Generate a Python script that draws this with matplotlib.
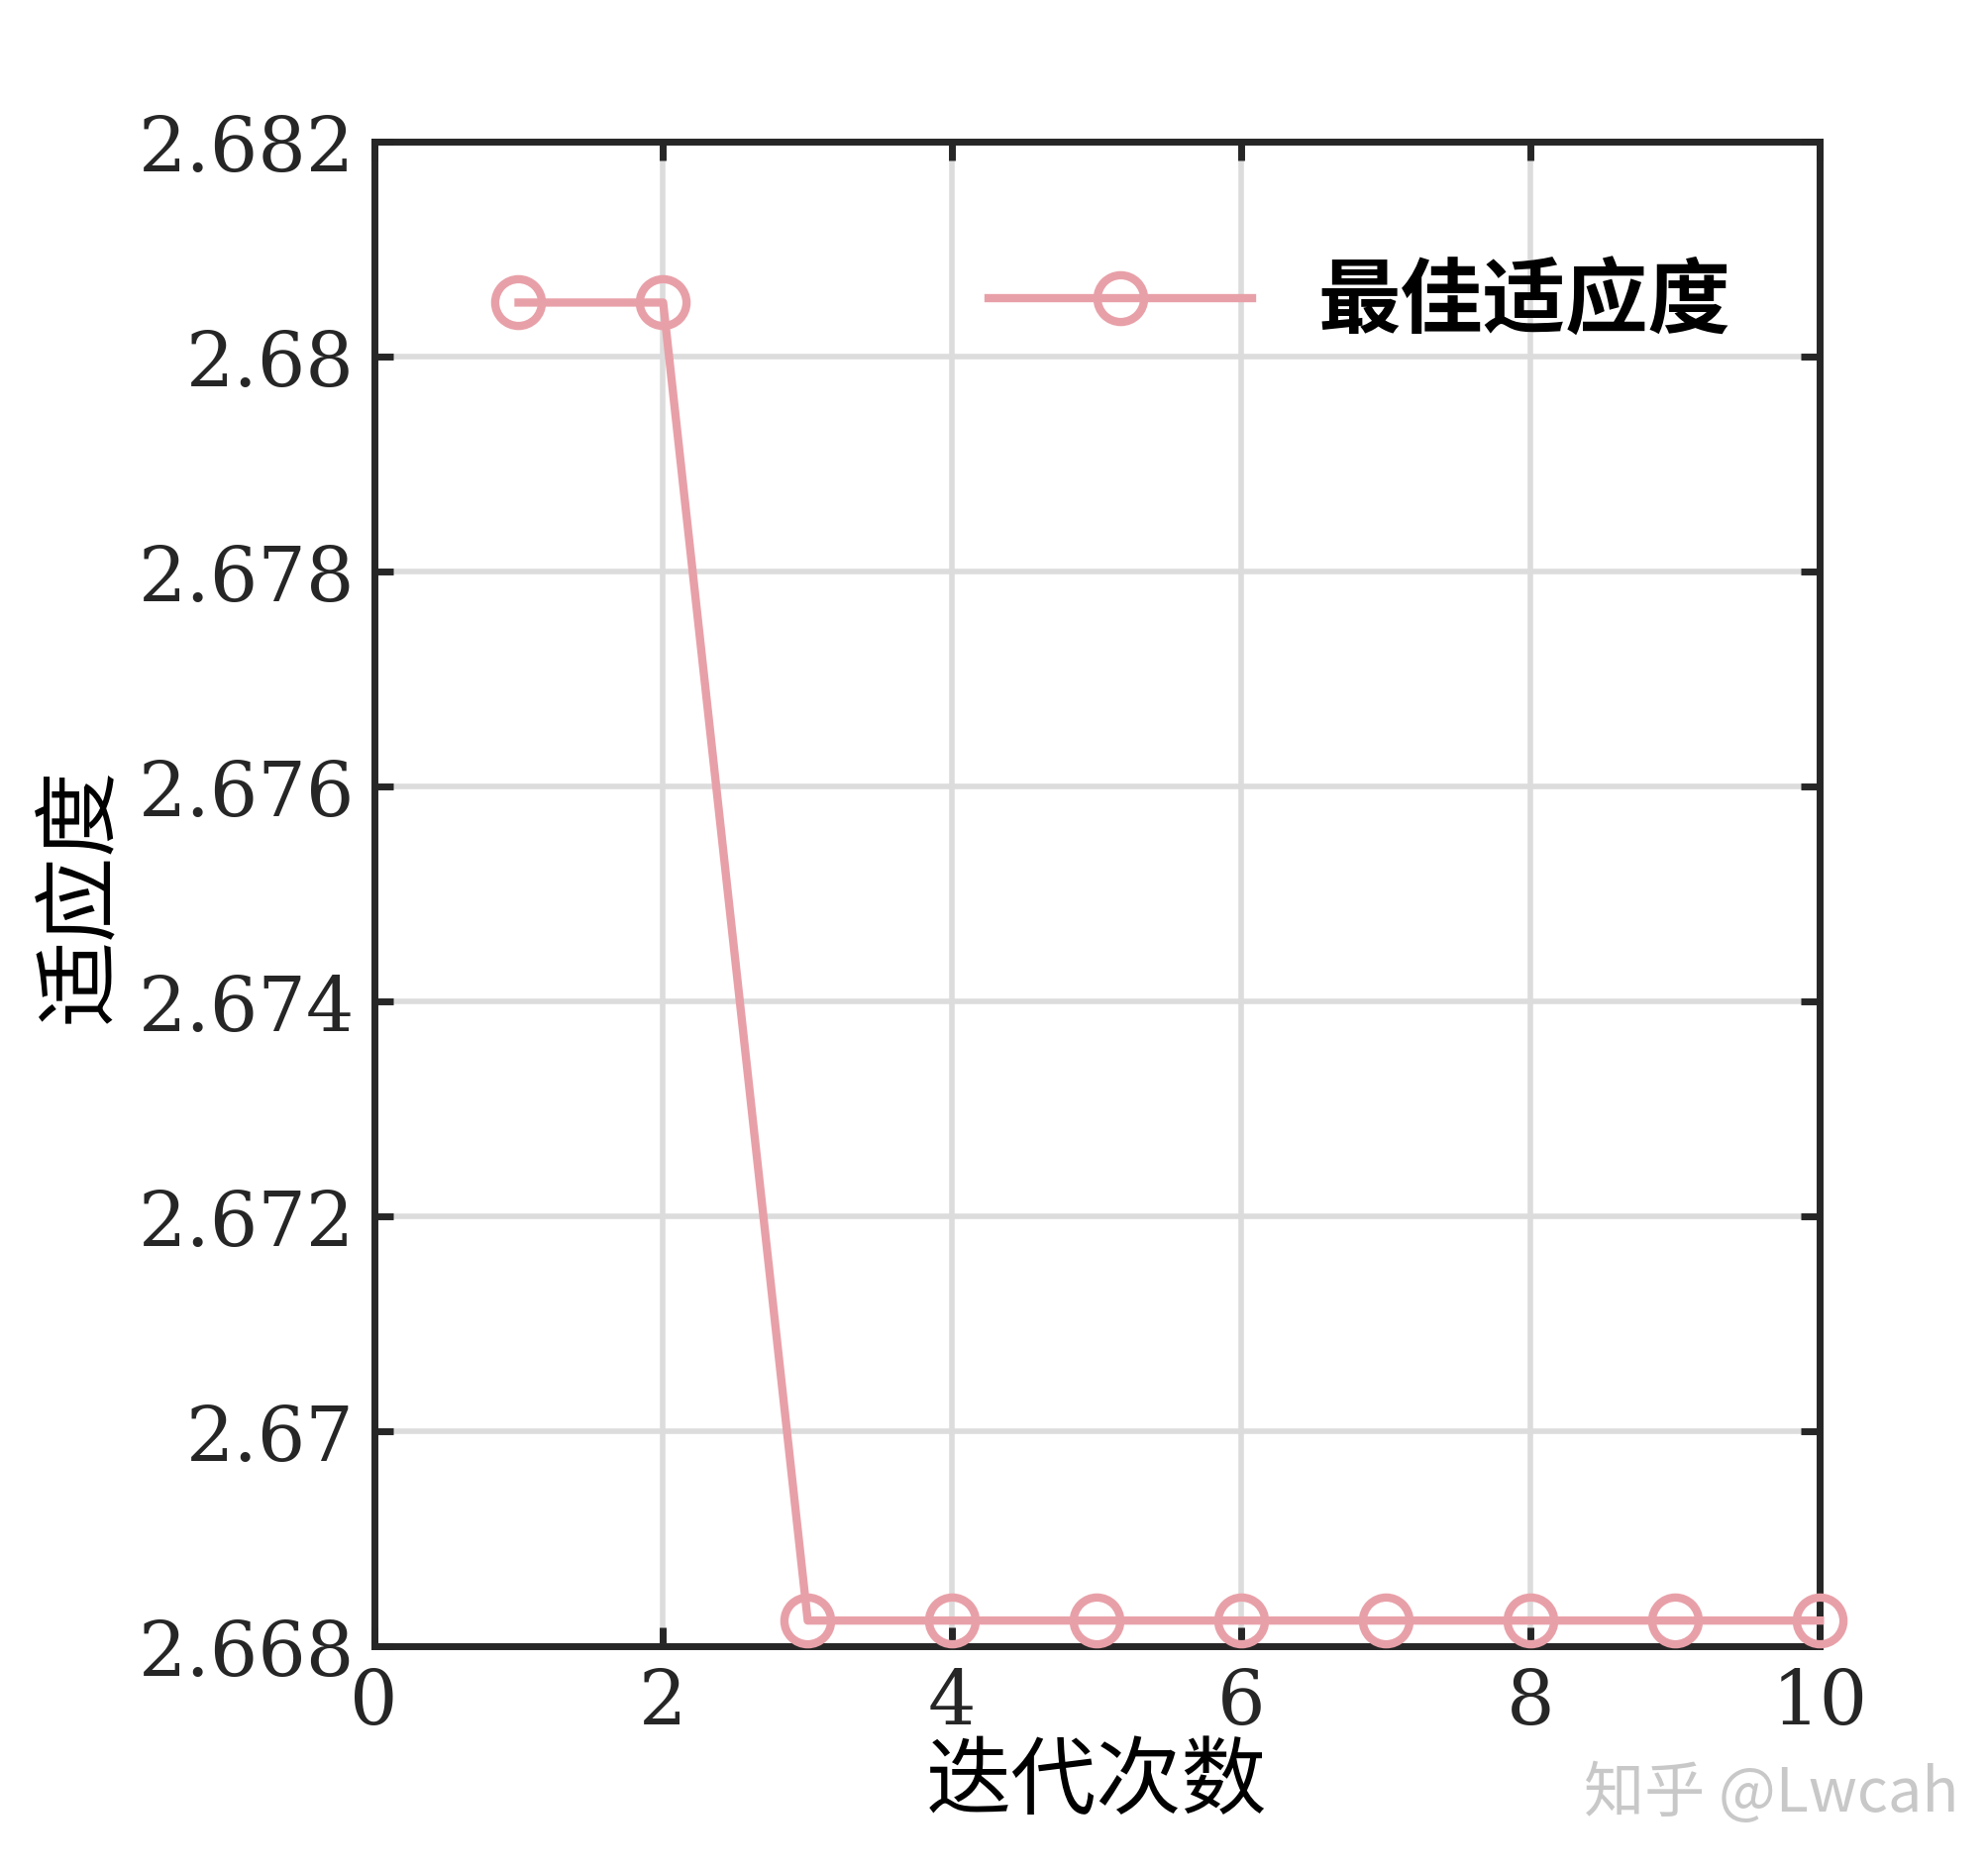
import matplotlib
matplotlib.use("Agg")
import matplotlib.pyplot as plt

plt.rcParams['font.family'] = ['Noto Sans CJK SC', 'DejaVu Sans']

iterations = [1, 2, 3, 4, 5, 6, 7, 8, 9, 10]
best_fitness = [2.6805, 2.6805, 2.66824, 2.66824, 2.66824, 2.66824,
                2.66824, 2.66824, 2.66824, 2.66824]
yticks = [2.668, 2.670, 2.672, 2.674, 2.676, 2.678, 2.680, 2.682]
ytick_labels = ['2.668', '2.67', '2.672', '2.674', '2.676', '2.678', '2.68', '2.682']
xticks = [0, 2, 4, 6, 8, 10]

fig = plt.figure(figsize=(20.08, 18.9), dpi=100)
ax = fig.add_axes([0.188, 0.12, 0.727, 0.804])

color = '#e8a0a8'
ax.plot(iterations, best_fitness, color=color, lw=6, marker='o', ms=34,
        markerfacecolor='none', markeredgewidth=6, label='最佳适应度',
        clip_on=False, zorder=3)

ax.set_xlim(0, 10)
ax.set_ylim(2.668, 2.682)
ax.set_xticks(xticks)
ax.set_yticks(yticks)
ax.set_yticklabels(ytick_labels)
ax.grid(True, color='#dcdcdc', lw=4)
ax.set_axisbelow(True)
for s in ax.spines.values():
    s.set_linewidth(5)
    s.set_color('#262626')
ax.tick_params(direction='in', length=14, width=5, labelsize=55,
               top=True, right=True, colors='#262626', pad=14)
for lbl in ax.get_xticklabels() + ax.get_yticklabels():
    lbl.set_family(['DejaVu Serif'])

ax.set_xlabel('迭代次数', fontsize=62, labelpad=0)
ax.set_ylabel('适应度', fontsize=62, labelpad=10)

leg = ax.legend(loc='upper right', fontsize=60, frameon=False,
                handlelength=3.2, bbox_to_anchor=(0.99, 0.97))
for t in leg.get_texts():
    t.set_fontweight('bold')

fig.text(0.985, 0.025, '知乎 @Lwcah', fontsize=44, color='#c8c8c8',
         ha='right', va='bottom')

fig.savefig('out.png', dpi=100, facecolor='white')
